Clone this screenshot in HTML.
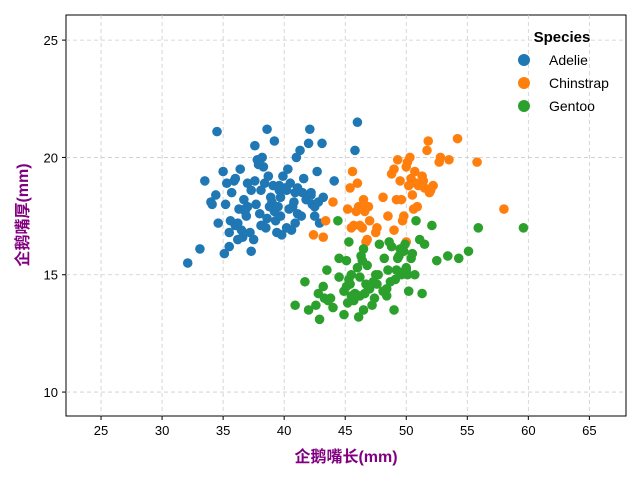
<!DOCTYPE html>
<html><head><meta charset="utf-8">
<style>
body{margin:0;background:#fff;}
svg text{font-family:"Liberation Sans","Noto Sans CJK SC",sans-serif;}
</style></head>
<body>
<svg id="chart" width="640" height="480" viewBox="0 0 640 480">
<rect x="66" y="15" width="560" height="401" fill="#fff" stroke="#000" stroke-width="1"/>
<g id="grid"></g><g id="marks"></g><g id="axes"></g>
<text x="346" y="462" text-anchor="middle" font-size="16" font-weight="bold" fill="#800080">企鹅嘴长(mm)</text>
<text transform="translate(28,215) rotate(-90)" text-anchor="middle" font-size="16" font-weight="bold" fill="#800080">企鹅嘴厚(mm)</text>
<g>
<text x="562" y="42" text-anchor="middle" font-size="15" font-weight="bold">Species</text>
<g><circle cx="524" cy="60" r="6" fill="#1f77b4"/><text x="549" y="65" font-size="14">Adelie</text></g>
<g><circle cx="524" cy="83" r="6" fill="#ff7f0e"/><text x="549" y="88" font-size="14">Chinstrap</text></g>
<g><circle cx="524" cy="106" r="6" fill="#2ca02c"/><text x="549" y="111" font-size="14">Gentoo</text></g>
</g>
</svg>
<script>
const xTicks=[25,30,35,40,45,50,55,60,65];
const yTicks=[10,15,20,25];
const adelieX=[32.1,33.1,33.5,34.5,34.6,34.4,35.0,35.1,35.3,35.5,36.0,36.2,35.7,36.4,36.6,36.8,37.0,37.2,37.3,37.6,37.8,38.0,38.1,38.2,38.5,38.6,38.8,39.0,39.2,39.3,39.5,39.6,39.7,39.8,40.1,40.2,40.3,40.5,40.6,40.8,40.9,41.1,41.3,41.4,41.5,41.6,42.0,42.1,42.2,42.3,42.5,42.7,42.9,43.2,43.1,44.1,45.8,46.0,38.7,39.2,42.2,42.5,41.1,35.9,36.7,37.5,36.3,38.9,39.6,40.7,37.7,36.9,38.3,39.1,35.2,34.1,36.5,37.3,38.6,39.9,40.2,41.0,37.9,36.2,35.6,38.1,39.7,40.9,42.8,37.0,38.4,36.0,37.6,39.4,40.4,41.8,35.5,36.8,38.2,34.0];
const adelieY=[15.5,16.1,19.0,21.1,17.2,18.4,19.4,15.9,18.9,16.2,17.1,17.2,18.5,19.5,16.6,17.8,18.9,16.8,16.0,20.5,19.9,17.6,18.6,20.0,17.0,21.2,17.9,18.1,20.7,17.3,17.9,18.8,18.3,16.7,18.7,17.0,19.5,18.9,16.9,18.1,18.5,17.6,20.3,17.5,18.5,19.1,20.6,21.2,18.5,18.0,17.5,19.4,17.2,18.3,20.6,19.0,20.3,21.5,19.2,17.7,18.4,17.9,18.7,19.0,18.2,16.5,17.8,18.3,18.6,17.9,18.0,17.5,19.6,18.8,18.0,18.0,16.9,18.6,17.4,19.2,18.6,20.0,19.7,16.5,17.3,17.1,17.5,17.2,18.1,17.9,18.9,19.1,19.0,16.8,17.8,18.2,16.8,17.7,17.1,18.1];
const chinX=[42.4,43.2,43.4,44.0,45.2,45.4,45.5,45.6,45.7,46.0,46.1,46.2,46.4,46.5,46.6,46.7,46.8,46.9,47.0,47.5,48.1,48.5,49.0,49.2,49.3,49.5,49.6,49.7,49.8,50.0,50.1,50.2,50.3,50.5,50.6,50.7,50.8,50.9,51.0,51.3,51.4,51.5,51.7,51.9,52.0,52.2,52.7,52.8,53.5,54.2,55.8,58.0,45.9,46.4,47.6,48.8,50.4,51.8,49.0,50.0];
const chinY=[16.7,16.6,17.3,18.1,17.8,18.7,17.0,19.4,17.1,18.9,17.9,17.1,17.8,18.2,17.7,16.4,16.5,17.9,17.3,16.8,18.3,17.5,19.5,18.2,19.9,19.0,18.2,17.3,17.5,19.6,19.8,18.8,20.0,18.4,17.8,19.4,18.9,17.9,18.8,19.2,19.0,18.7,20.3,18.5,18.6,18.8,19.8,20.0,19.9,20.8,19.8,17.8,17.7,17.0,17.0,19.3,19.1,20.7,16.9,16.4];
const gentX=[40.9,41.7,42.0,42.6,42.8,42.9,43.2,43.3,43.5,43.6,44.0,44.4,44.5,44.9,45.1,45.2,45.3,45.4,45.5,45.7,45.8,46.1,46.2,46.3,46.4,46.5,46.6,46.8,46.9,47.2,47.3,47.5,47.7,47.8,48.1,48.2,48.4,48.5,48.7,48.8,49.0,49.1,49.2,49.3,49.4,49.5,49.6,49.8,49.9,50.0,50.1,50.2,50.4,50.5,50.7,50.8,51.1,51.3,51.5,52.1,52.5,53.4,54.3,55.1,55.9,59.6,44.9,45.3,46.0,46.7,47.4,48.4,45.1,46.2,47.0,43.8,44.5,45.5,49.5,48.6,46.5,47.6,50.0,46.9];
const gentY=[13.7,14.7,13.5,13.7,14.2,13.1,14.5,14.0,15.2,13.9,13.6,17.3,15.7,13.3,14.5,13.8,16.4,14.6,15.0,13.9,14.2,13.2,14.1,15.8,15.6,13.5,14.2,15.4,14.4,13.7,14.7,15.0,15.0,16.3,14.3,15.7,14.1,15.2,14.7,16.2,13.5,14.8,15.2,15.7,15.8,16.1,15.0,16.0,16.3,15.2,15.0,14.3,15.7,15.9,15.0,17.3,16.5,14.2,16.3,17.1,15.6,15.8,15.7,16.0,17.0,17.0,14.3,14.8,15.3,14.6,14.0,14.4,15.6,14.9,14.4,14.0,14.9,14.1,15.1,16.4,16.1,14.6,15.3,14.5];
const X0=66,X1=626,Y0=15,Y1=416,xmin=22.13,xmax=68.0,ymin=8.98,ymax=26.07;
function sx(v){return X0+(v-xmin)/(xmax-xmin)*(X1-X0);}
function sy(v){return Y1-(v-ymin)/(ymax-ymin)*(Y1-Y0);}
const NS="http://www.w3.org/2000/svg";
const grid=document.getElementById('grid'),axes=document.getElementById('axes'),marks=document.getElementById('marks');
function mk(t,a){const e=document.createElementNS(NS,t);for(const k in a)e.setAttribute(k,a[k]);return e;}
xTicks.forEach(t=>{const x=sx(t);
 const g=mk('line',{x1:x,x2:x,y1:Y0,y2:Y1,stroke:'#ccc','stroke-dasharray':'4,3','stroke-width':0.8});
 
 
 grid.appendChild(g);
 const k=mk('line',{x1:x,x2:x,y1:Y1,y2:Y1+4,stroke:'#000'});
 
 
 axes.appendChild(k);
 const l=mk('text',{x:x,y:Y1+19,'text-anchor':'middle','font-size':13});l.textContent=t;
 
 
 axes.appendChild(l);});
yTicks.forEach(t=>{const y=sy(t);
 const g=mk('line',{x1:X0,x2:X1,y1:y,y2:y,stroke:'#ccc','stroke-dasharray':'4,3','stroke-width':0.8});
 
 
 grid.appendChild(g);
 const k=mk('line',{x1:X0-4,x2:X0,y1:y,y2:y,stroke:'#000'});
 
 
 axes.appendChild(k);
 const l=mk('text',{x:X0-8,y:y+5,'text-anchor':'end','font-size':13});l.textContent=t;
 
 
 axes.appendChild(l);});
function draw(xs,ys,c,name){xs.forEach((v,i)=>{
 const p=mk('circle',{cx:sx(v),cy:sy(ys[i]),r:4.8,fill:c});
 
 
 marks.appendChild(p);});}
draw(adelieX,adelieY,'#1f77b4','adelie-point');
draw(chinX,chinY,'#ff7f0e','chinstrap-point');
draw(gentX,gentY,'#2ca02c','gentoo-point');
</script>
</body></html>
